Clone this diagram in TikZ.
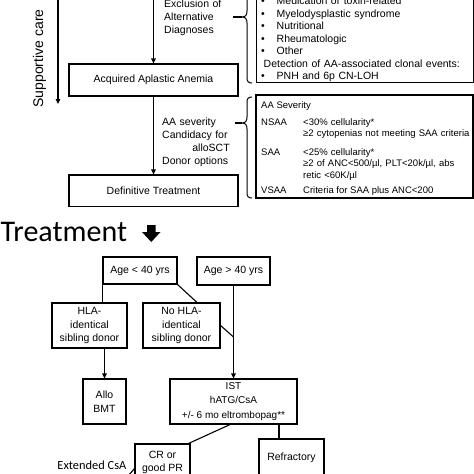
\documentclass[tikz,border=0pt]{standalone}
\usepackage{fontspec}
\setmainfont{Liberation Sans}
\newfontfamily\calib{Carlito}
\usetikzlibrary{arrows.meta,calc}
\begin{document}
\begin{tikzpicture}[x=1pt,y=-1pt,
  box/.style={draw, line width=1.1pt, inner sep=0pt, align=center, font=\fontsize{10.5}{13.5}\selectfont},
  ln/.style={line width=1.1pt},
  arr/.style={line width=1.1pt,-{Triangle[length=5pt,width=4.5pt]}},
  txt/.style={inner sep=0pt, anchor=base west, align=left, font=\fontsize{10.5}{12.5}\selectfont},
  sev/.style={inner sep=0pt, anchor=base west, align=left, font=\fontsize{9.5}{11.5}\selectfont},
]
\useasboundingbox (0,0) rectangle (474,474);
\clip (0,0) rectangle (474,474);

% ---- top part ----
\node[rotate=90, anchor=base, inner sep=0pt, font=\fontsize{14}{16}\selectfont] (sc) at (43,58.5) {Supportive care};
\coordinate (sctop) at (58,-5);
\coordinate (scend) at (58,104);
\draw[arr] (sctop) -- (scend);

\node[box, minimum width=169pt, minimum height=32pt] (aaa) at (153.5,80) {Acquired Aplastic Anemia};
\node[box, minimum width=169pt, minimum height=31.5pt] (def) at (153.5,190.75) {Definitive Treatment};
\coordinate (topc) at (153.5,-5);
\draw[arr] (topc) -- (aaa.north);
\draw[arr] (aaa.south) -- (def.north);

\node[txt, text width=70pt, font=\fontsize{10.5}{13}\selectfont] (excl) at (164,7) {Exclusion of\\Alternative\\Diagnoses};
\node[txt, text width=70pt, font=\fontsize{10.5}{13}\selectfont] (crit) at (162,125) {AA severity\\Candidacy for\\\makebox[67.5pt][r]{alloSCT}\\Donor options};

\coordinate (d1a) at (233,17); \coordinate (d1b) at (242,17);
\draw[ln] (d1a) -- (d1b);
\coordinate (d2a) at (235,123); \coordinate (d2b) at (242,123);
\draw[ln] (d2a) -- (d2b);

% braces
\draw[line width=1pt] (252,-49) .. controls (248.5,-49) and (247,-47) .. (247,-43) -- (247,11) .. controls (247,15) and (245.5,17) .. (242,17) .. controls (245.5,17) and (247,19) .. (247,23) -- (247,78) .. controls (247,81.5) and (248.5,83) .. (252,83);
\draw[line width=1pt] (252,97) .. controls (248.5,97) and (247,98.5) .. (247,102) -- (247,117) .. controls (247,121) and (245.5,123) .. (242,123) .. controls (245.5,123) and (247,125) .. (247,129) -- (247,193) .. controls (247,196.5) and (248.5,198) .. (252,198);

% differential box
\node[draw, line width=1.1pt, inner sep=0pt, minimum width=217pt, minimum height=110pt, anchor=south west] (diff) at (256,83) {};
\node[txt, text width=210pt] (list) at (261,4.5) {\makebox[15.5pt][l]{•}Medication or toxin-related\\
\makebox[15.5pt][l]{•}Myelodysplastic syndrome\\
\makebox[15.5pt][l]{•}Nutritional\\
\makebox[15.5pt][l]{•}Rheumatologic\\
\makebox[15.5pt][l]{•}Other\\
\hspace*{2.5pt}Detection of AA-associated clonal events:\\
\makebox[15.5pt][l]{•}PNH and 6p CN-LOH};

% severity box
\node[draw, line width=1.1pt, inner sep=0pt, minimum width=217pt, minimum height=103pt] (sevbox) at (364.5,146.5) {};
\node[sev] (sevt) at (261,108) {AA Severity};
\node[sev] (nsaa) at (261,125) {NSAA};
\node[sev, text width=200pt] (nsaad) at (303,125) {<30\% cellularity*\\≥2 cytopenias not meeting SAA criteria};
\node[sev] (saa) at (261,155) {SAA};
\node[sev, text width=200pt] (saad) at (303,155) {<25\% cellularity*\\≥2 of ANC<500/µl, PLT<20k/µl, abs\\retic <60K/µl};
\node[sev] (vsaa) at (261,193) {VSAA};
\node[sev] (vsaad) at (303,193) {Criteria for SAA plus ANC<200};

% ---- treatment ----
\node[anchor=base west, inner sep=0pt, font=\calib\fontsize{30}{32}\selectfont] (title) at (0.5,241.5) {Treatment};
\fill (147,225) -- (155.5,225) -- (155.5,232) -- (160.5,232) -- (151.25,242) -- (142,232) -- (147,232) -- cycle;

\node[box, minimum width=74pt, minimum height=27pt] (a40) at (140,270.5) {Age < 40 yrs};
\node[box, minimum width=73pt, minimum height=28pt] (b40) at (233.5,271) {Age > 40 yrs};
\node[box, minimum width=75pt, minimum height=45pt] (hla) at (89.5,325.5) {HLA-\\identical\\sibling donor};
\node[box, minimum width=77pt, minimum height=45pt] (nohla) at (181.5,325.5) {No HLA-\\identical\\sibling donor};
\node[box, minimum width=43pt, minimum height=45pt] (allo) at (104.5,401.5) {Allo\\BMT};
\node[box, minimum width=127pt, minimum height=45pt, font=\fontsize{10}{14.2}\selectfont] (ist) at (233.5,401.5) {IST\\hATG/CsA\\+/- 6 mo eltrombopag**};
\node[box, minimum width=55pt, minimum height=37pt, font=\fontsize{10.5}{12.3}\selectfont] (cr) at (162.5,462.5) {CR or\\good PR};
\node[box, minimum width=65pt, minimum height=38pt] (ref) at (291.5,458) {Refractory};
\node[anchor=base east, inner sep=0pt, font=\calib\fontsize{12.4}{14}\selectfont] (ext) at (126.5,469) {Extended CsA};

\draw[ln] (a40.south west) -- (a40.south west |- hla.north);
\coordinate (nhtop) at ([xshift=15.5pt]nohla.north);
\draw[ln] (a40.south east) -- (nhtop);
\draw[arr] (b40.south) -- (ist.north);
\coordinate (j) at (233.5,337);
\draw[ln] (nohla.east) -- (j);
\draw[arr] (allo.north |- hla.south) -- (allo.north);
\coordinate (istl) at ([xshift=-3.5pt]ist.south);
\coordinate (crtr) at ([xshift=-2pt]cr.north east);
\draw[ln] (istl) -- (crtr);
\coordinate (istr) at ([xshift=45.5pt]ist.south);
\draw[ln] (istr) -- (istr |- ref.north);
\coordinate (crl) at (135,468);
\coordinate (crout) at (121,484);
\draw[ln] (crl) -- (crout);
\end{tikzpicture}
\end{document}
